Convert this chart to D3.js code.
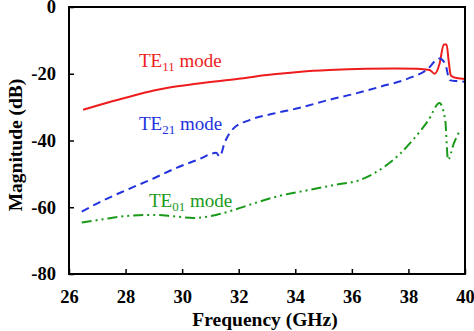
<!DOCTYPE html>
<html><head><meta charset="utf-8">
<script src="https://cdn.jsdelivr.net/npm/d3@7"></script>
<style>body{margin:0;background:#fff}svg{display:block}</style>
</head><body>
<script>
const xTicks = [26,28,30,32,34,36,38,40];
const yTicks = [0,-20,-40,-60,-80];
const te11Freq = [26.5,27.1,28,29,29.5,30.5,32,33,34.2,35.2,36.5,37.5,38.3,38.75,38.93,39.1,39.25,39.35,39.42,39.5,39.7,40];
const te11Mag  = [-30.8,-29.3,-27.2,-25,-24.2,-23,-21.5,-20.4,-19.4,-18.9,-18.5,-18.4,-18.5,-18.9,-20,-17,-11.2,-11.2,-16,-20.5,-21.3,-21.6];
const te21Freq = [26.45,27.2,28.04,29,29.8,30.6,31.2,31.33,31.5,31.8,32.4,33.2,34.16,35.2,36,37,38,38.64,39.1,39.3,39.46,39.7,40];
const te21Mag  = [-61.3,-58,-54.8,-51.3,-48.2,-45.6,-43.7,-44.8,-40.7,-36.5,-33.8,-32,-30.2,-27.8,-26.2,-23.9,-21.4,-18.9,-15.4,-17,-21.9,-22.2,-22.4];
const te01Freq = [26.45,27.2,28.04,29,29.7,30.4,31.2,32.05,32.7,33.34,34.5,35.4,36.3,37.16,37.7,38.16,38.7,39.1,39.3,39.4,39.6,39.8];
const te01Mag  = [-64.6,-63.6,-62.6,-62.3,-62.7,-63.2,-62.3,-60.2,-58.4,-56.8,-54.8,-53.3,-51.8,-47.8,-44,-39.8,-34,-28.8,-33.8,-45.8,-41,-37.3];
const seriesNames = ["TE", "TE", "TE"];
const subs = ["11","21","01"];
const colors = ["#ee1c1c","#2233dd","#1a9a1a"];

const W=474,H=331;
const svg=d3.select("body").append("svg").attr("width",W).attr("height",H);
const x=d3.scaleLinear().domain([26,40]).range([69,465]);
const y=d3.scaleLinear().domain([-80,0]).range([274,7]);
const font="'Liberation Serif','Times New Roman',serif";

const line=d3.line().x(d=>x(d[0])).y(d=>y(d[1])).curve(d3.curveMonotoneX);
const mk=(f,m)=>f.map((v,i)=>[v,m[i]]);
const dashes=[null,"8,5","10,4,2,4,2,4"];
[[te11Freq,te11Mag],[te21Freq,te21Mag],[te01Freq,te01Mag]].forEach((s,i)=>{
  svg.append("path").datum(mk(s[0],s[1])).attr("d",line)
    .attr("fill","none").attr("stroke",colors[i]).attr("stroke-width",2)
    .attr("stroke-dasharray",dashes[i]);
});

// frame
svg.append("rect").attr("x",69).attr("y",7).attr("width",396).attr("height",267)
  .attr("fill","none").attr("stroke","#000").attr("stroke-width",2);

const xa=svg.append("g").attr("transform","translate(0,274)")
  .call(d3.axisBottom(x).tickValues(xTicks).tickSize(-5).tickPadding(16).tickFormat(d=>String(d)));
const ya=svg.append("g").attr("transform","translate(69,0)")
  .call(d3.axisLeft(y).tickValues(yTicks).tickSize(-5).tickPadding(13).tickFormat(d=>String(d)));
[xa,ya].forEach(a=>{
  a.select(".domain").remove();
  a.selectAll("line").attr("stroke","#000").attr("stroke-width",1.5);
  a.selectAll("text").attr("font-family",font).attr("font-size",18.5).attr("font-weight","bold").attr("fill","#000");
});

svg.append("text").attr("x",265).attr("y",326).attr("text-anchor","middle")
  .attr("font-family",font).attr("font-size",19.5).attr("font-weight","bold").text("Frequency (GHz)");
svg.append("text").attr("transform","translate(22,145) rotate(-90)").attr("text-anchor","middle")
  .attr("font-family",font).attr("font-size",19.5).attr("font-weight","bold").text("Magnitude (dB)");

const labelPos=[[139,67],[139,130],[149,207]];
labelPos.forEach((p,i)=>{
  const t=svg.append("text").attr("x",p[0]).attr("y",p[1]).attr("font-family",font)
    .attr("font-size",19).attr("fill",colors[i]);
  t.append("tspan").text(seriesNames[i]);
  t.append("tspan").attr("font-size",13).attr("dy",4).text(subs[i]);
  t.append("tspan").attr("dy",-4).text(" mode");
});
</script>
</body></html>
